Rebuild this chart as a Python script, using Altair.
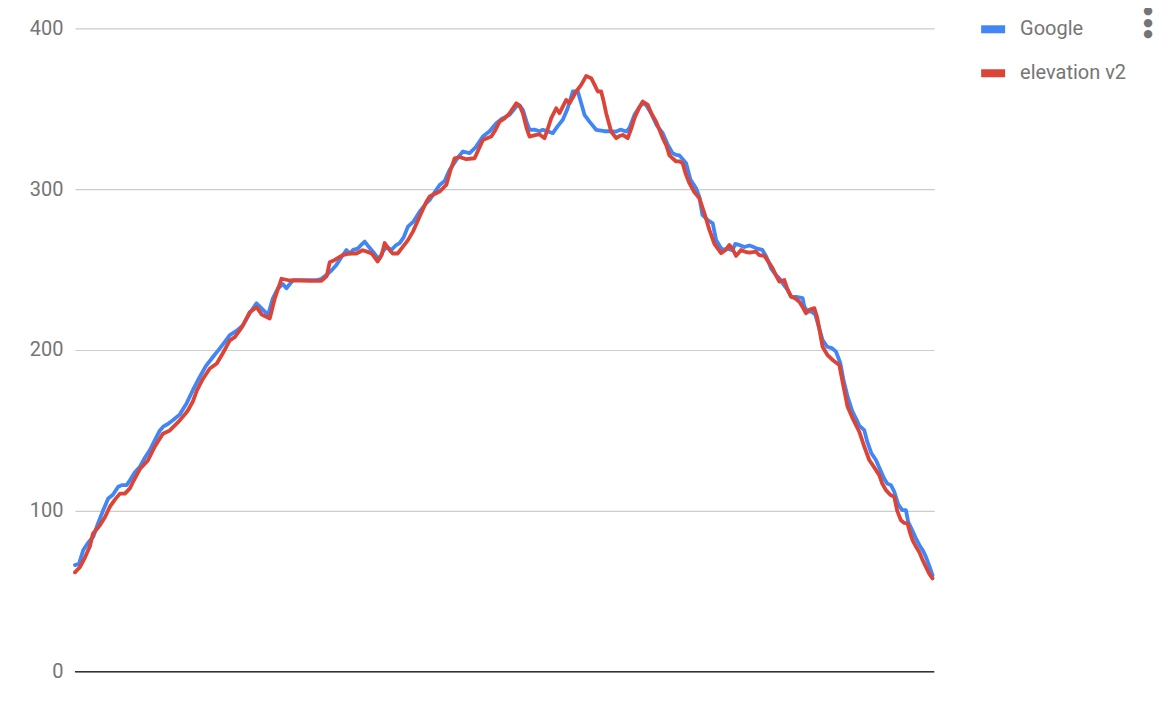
import altair as alt
import pandas as pd

# (distance along route, elevation)
google_points = [(0,66.3),(4,67),(8.3,75.6),(13,80),(18.3,83.9),(23,92),(28,100),(33.3,107.7),(38,110),(43.3,115),
 (47,116),(51.7,116),(55,119),(60,124),(65,127.4),(70,133),(75,137.8),(80,144),(85,150),(88.3,152.3),(93,154),
 (98.3,156.5),(105,160),(111.7,166.8),(118,175),(125,183.4),(131,190),(138.3,195.8),(145,201),(150,205),
 (155,209.3),(162,212),(168.3,215.5),(175,223),(181.7,229),(188.3,224.9),(193.3,221.8),(198,232),(203.3,238.4),
 (208,241),(211.7,238.4),(218.3,243.5),(225,243.5),(235,243.5),(241.7,243.5),(246,244),(251.7,246.6),(256,249),
 (261.7,252.9),(266,257),(271.7,262.2),(275,260),(278.3,262.2),(283,263),(286,265),(290,267.4),(293,265),
 (298.3,261.1),(302,258),(305,257),(308,261),(311.7,264.3),(316.7,262.2),(321,265),(325,266.4),(329,270),
 (333.3,276.7),(339,280),(345,286),(351.7,291.3),(355,293.3),(360,298),(365,302.6),(370,305),(375,312),
 (381.7,318.2),(385,321),(388.3,323.4),(395,322.4),(401,326),(408.3,332.7),(415,336),(421.7,341),(428,344),
 (435,346.2),(441.7,351.4),(445,352),(448.3,349.3),(452,342),(455,336.9),(460,337),(465,336),(468.3,336.9),
 (473,336),(478.3,334.8),(483,339),(488.3,343.1),(493,350),(498.3,360.7),(503.3,360.7),(506,355),(510,346.2),
 (515,342),(521.7,336.9),(530,336),(535,336),(541.7,335.8),(546,337),(551.7,335.8),(555,338),(560,346.2),
 (565,351),(568.3,353.4),(572,352),(576.7,347.2),(582,340),(588.3,334.8),(593,328),(598,322.5),(601.7,321.3),
 (605,321),(611.7,316.1),(616,306),(621.7,300.6),(625,295),(628,284),(633,281),(638.3,278.8),(641.7,268.4),
 (645,265),(648,262.2),(653,263),(658,262),(661,266),(665,265.3),(670,264),(675,265),(678,264.3),(683,263),
 (688,262.2),(692,258),(696.7,250.8),(701,247),(705,244.6),(709,241),(713.3,237.3),(717,233),(722,233),
 (728.3,232.2),(730,227),(733.3,223.8),(737,224),(741,222),(748.3,206.2),(753,202),(758,201),(761.7,199),
 (766,192),(769,182),(773.3,171),(778,162),(782,157),(785,153),(790,150.2),(793,143),(797,136),(801.7,131.6),
 (805,127),(810,120),(813,117),(816.7,116),(820,112),(824,104),(828,100.5),(831.7,100.5),(834,93),(838,88),
 (841.7,82.9),(845,79),(849,75),(851.7,71.4),(855,66),(858.3,60)]

v2_points = [(0,61.8),(5,65),(10,71),(15,78),(18,85.8),(25,91),(30,96),(35,102.6),(40,107),(45,110.7),(50,110.7),
 (55,114),(58,117.8),(65,126),(73,131.3),(80,140),(88,148),(95,150),(103,155),(110,160),(113,162.4),(118,168),
 (122,174.8),(128,182),(135,188.5),(142,191.6),(148,198),(155,206),(160,208),(167,214),(175,223.5),(181.7,226.6),
 (187,222),(195,219.6),(200,232),(206.7,244.3),(215,243.2),(225,243.2),(235,243),(246.7,243),(252,246),
 (255,254.6),(260,256),(268,259),(275,260),(281.7,260),(288,262),(293,261),(297,260),(303,255),(307,259),
 (310,266.5),(315,262),(318,260),(323,260),(328.3,264.3),(333,268),(338.3,273.6),(345,283),(351.7,292.2),
 (355,295.4),(365,298.5),(371.7,302.6),(376,312),(380,319.2),(385,320),(391.7,318.6),(400,319.2),(408.3,330.6),
 (416.7,332.7),(421,337),(425,342),(430,344),(435,347.2),(441.7,353.4),(445,352),(448.3,347.2),(452,338),
 (455,332.7),(461.7,333.7),(465,334),(470,331.7),(473,337),(476.7,344.1),(481.7,350.3),(485,347.2),(488,351),
 (491.7,355.5),(495,353.4),(501.7,360.7),(506.7,364.8),(511.7,370.4),(516.7,369),(520,365),(523.3,360.7),
 (526.7,360.7),(529,355),(531.7,347.2),(536.7,335.8),(541.7,331.7),(545,333),(548.3,333.7),(553.3,331.7),
 (557,338),(560,344.1),(565,351),(568.3,354.5),(573.3,352.4),(577,347),(581.7,342),(588.3,331.7),(592,327),
 (595,321),(601.7,317.2),(605,317.2),(608.3,316),(611,310),(615,303.7),(620,298),(625,294.4),(630,285),
 (635,274.7),(640,266),(646.7,260.2),(651,262),(655,265.3),(658,263),(661.7,258.5),(666.7,262.2),(671,261),
 (675,260.5),(681.7,261.1),(685,259),(690,258.5),(694,255),(698.3,250.8),(702,246),(705,242.5),(710,243.5),
 (713,238),(716.7,233.2),(721,232),(725,230),(728,227),(731.7,222.8),(735,225),(740,226),(743,220),(748.3,202),
 (753,197),(758.3,193.8),(765,190.7),(769,178),(773.3,164.7),(778,158),(785,149.2),(790,140),(795,131.6),
 (800,127),(805,122.2),(808,117),(811.7,112.9),(816,110),(820,108.7),(823,100),(826.7,94.2),(830,92.5),
 (833.3,92.2),(836,86),(838.3,81.8),(842,77.5),(845,74.5),(848,70),(851.7,65.2),(855,61),(858.3,58)]

series_names = ["Google", "elevation v2"]
series_colors = ["#4285F4", "#DB4437"]
y_ticks = [0, 100, 200, 300, 400]
menu_dots = ["\u25cf", "\u25cf", "\u25cf"]

frames = []
for name, pts in zip(series_names, [google_points, v2_points]):
    f = pd.DataFrame(pts, columns=["dist", "elev"])
    f["series"] = name
    f["order"] = range(len(f))
    frames.append(f)
df = pd.concat(frames, ignore_index=True)

x_scale = alt.Scale(domain=[0, 860], nice=False, zero=False)
y_scale = alt.Scale(domain=[0, 400], nice=False)

lines = alt.Chart(df).mark_line(strokeWidth=3.8, strokeJoin="round", strokeCap="round").encode(
    x=alt.X("dist:Q", scale=x_scale, axis=None),
    y=alt.Y("elev:Q", scale=y_scale, title=None,
            axis=alt.Axis(values=y_ticks, domain=False, ticks=False, labelPadding=12,
                          labelFontSize=20, labelColor="#757575", labelFont="Roboto",
                          gridColor="#cccccc", gridWidth=1.2)),
    color=alt.Color("series:N", title=None,
                    scale=alt.Scale(domain=series_names, range=series_colors),
                    legend=alt.Legend(orient="none", legendX=903, legendY=-15,
                                      symbolType="M-1,0L1,0", symbolSize=576, symbolStrokeWidth=8,
                                      labelFontSize=20, labelColor="#757575", labelFont="Roboto",
                                      labelOffset=11, rowPadding=12)),
    order="order:Q",
)

baseline = alt.Chart(pd.DataFrame({"v": [y_ticks[0]]})).mark_rule(color="#333333", strokeWidth=1.6).encode(
    y=alt.Y("v:Q", scale=y_scale)
)

# the chart's menu button (three dots) in the top-right corner
menu_layers = [
    alt.Chart(pd.DataFrame({"t": [dot]})).mark_text(
        fontSize=11, font="DejaVu Sans", color="#757575", baseline="middle", align="center"
    ).encode(text="t:N", x=alt.value(1074), y=alt.value(-17 + 11.5 * i))
    for i, dot in enumerate(menu_dots)
]

chart = alt.layer(lines, baseline, *menu_layers).properties(
    width=860, height=644,
    autosize=alt.AutoSizeParams(type="none"),
    padding={"left": 67, "top": 20, "right": 220, "bottom": 28},
).configure_view(stroke=None)

chart.save("out.html", embed_options={"renderer": "svg", "actions": False})
